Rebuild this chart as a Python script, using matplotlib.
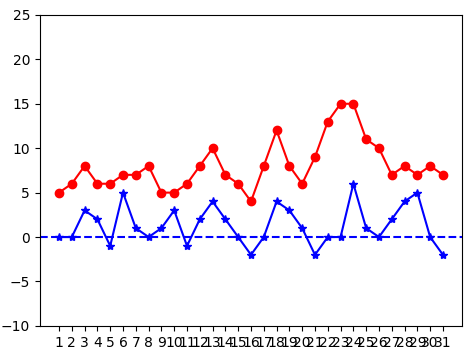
import matplotlib
matplotlib.use("Agg")
import matplotlib.pyplot as plt

days = list(range(1, 32))
red_values = [5, 6, 8, 6, 6, 7, 7, 8, 5, 5, 6, 8, 10, 7, 6, 4, 8, 12, 8, 6, 9, 13, 15, 15, 11, 10, 7, 8, 7, 8, 7]
blue_values = [0, 0, 3, 2, -1, 5, 1, 0, 1, 3, -1, 2, 4, 2, 0, -2, 0, 4, 3, 1, -2, 0, 0, 6, 1, 0, 2, 4, 5, 0, -2]

fig = plt.figure(figsize=(4.74, 3.55), dpi=100)
ax = fig.add_subplot(111)
fig.subplots_adjust(left=0.084, right=0.975, top=0.958, bottom=0.082)

ax.plot(days, red_values, color="red", marker="o")
ax.plot(days, blue_values, color="blue", marker="*")
ax.axhline(0, color="blue", linestyle="--")
ax.set_ylim(-10, 25)
ax.set_xticks(days)
ax.set_xticklabels([str(d) for d in days])

fig.savefig("out.png", dpi=100)
